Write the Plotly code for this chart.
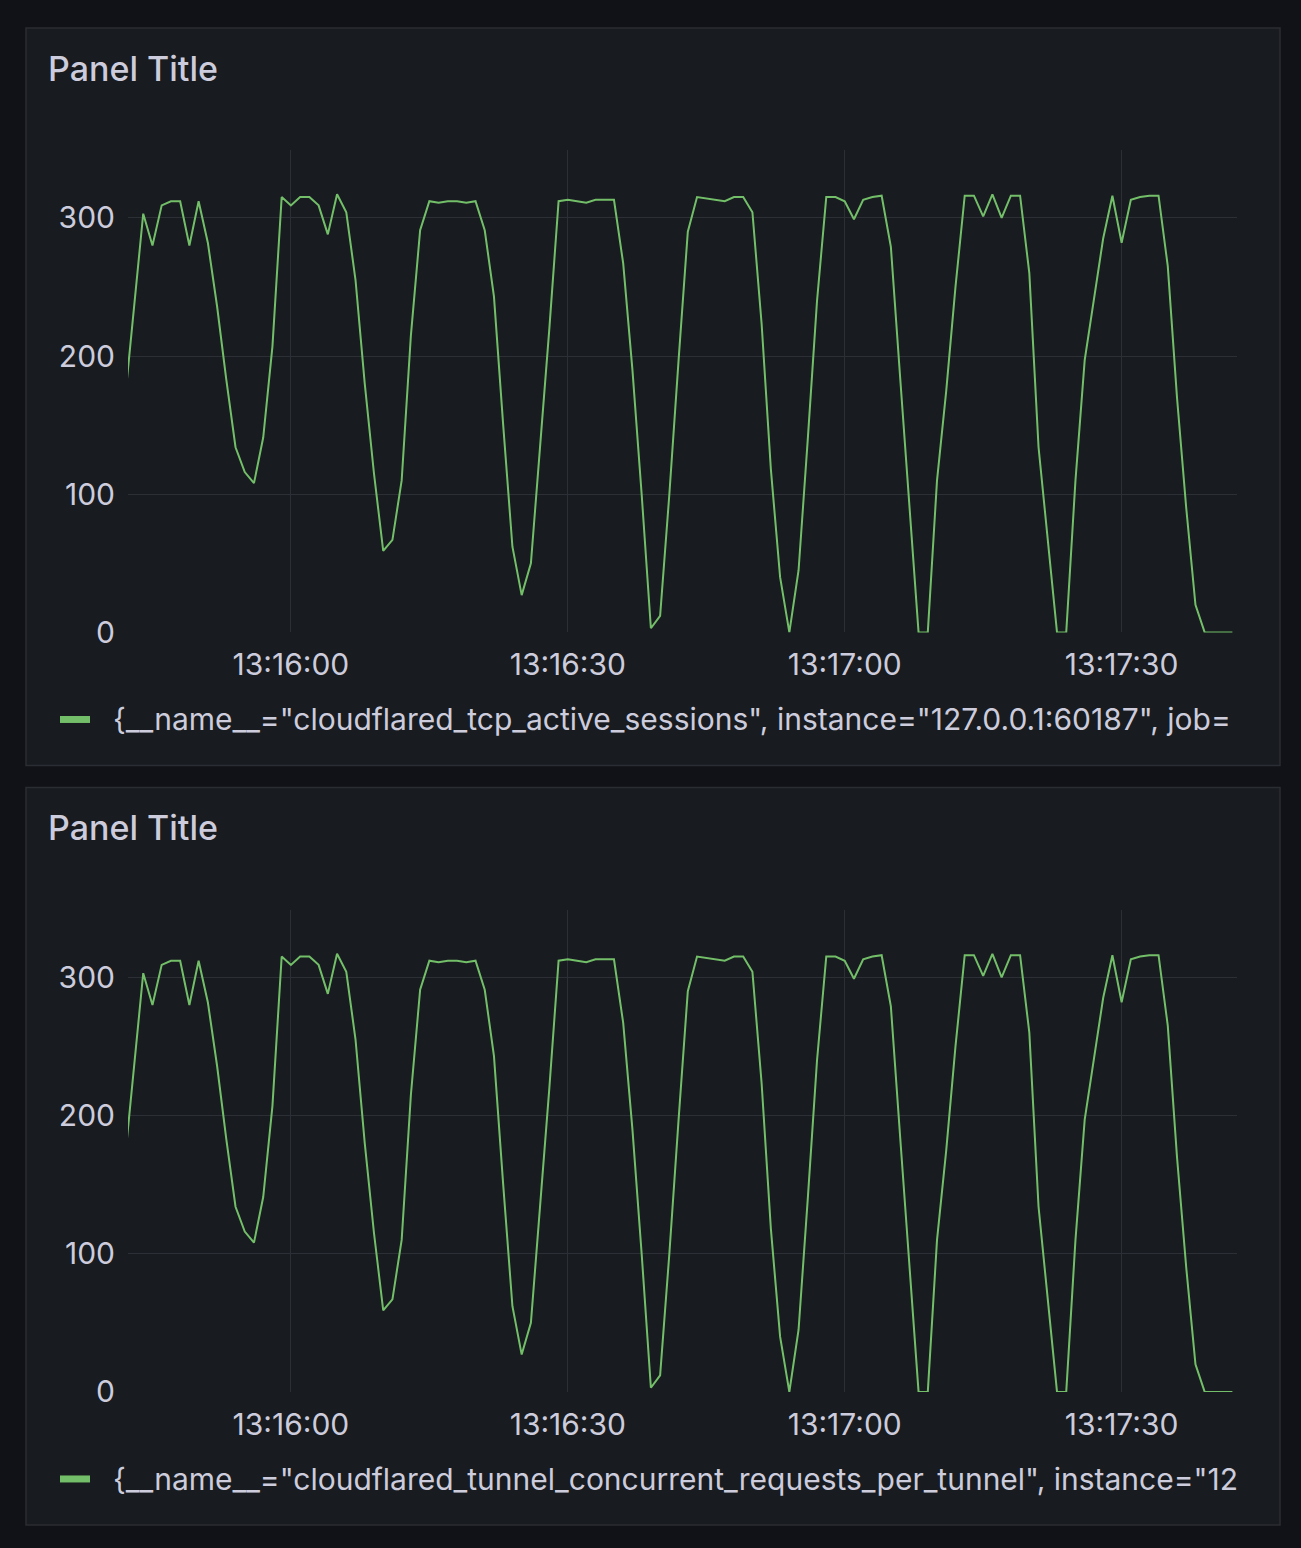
import pandas as pd
import plotly.graph_objects as go

# muestras cada segundo desde 13:15:42
start_time = "2024-01-01 13:15:42"
sessions = [167, 236, 303, 280, 309, 312, 312, 280, 312, 282,
            236, 183, 134, 116, 108, 141, 207, 315, 309, 315,
            315, 309, 288, 317, 304, 255, 180, 115, 59, 67,
            110, 215, 291, 312, 311, 312, 312, 311, 312, 291,
            243, 150, 62, 27, 50, 135, 220, 312, 313, 312,
            311, 313, 313, 313, 267, 190, 100, 3, 12, 100,
            197, 290, 315, 314, 313, 312, 315, 315, 304, 223,
            118, 40, 0, 45, 140, 240, 315, 315, 312, 299,
            313, 315, 316, 279, 185, 95, 0, 0, 110, 175,
            250, 316, 316, 301, 317, 300, 316, 316, 260, 134,
            65, 0, 0, 110, 197, 241, 285, 316, 282, 313,
            315, 316, 316, 265, 170, 90, 20, 0, 0, 0, 0]
requests = list(sessions)
times = pd.date_range(start_time, periods=len(sessions), freq="s")

y_ticks = [0, 100, 200, 300]
x_ticks = ["2024-01-01 13:16:00", "2024-01-01 13:16:30", "2024-01-01 13:17:00", "2024-01-01 13:17:30"]
x_labels = ["13:16:00", "13:16:30", "13:17:00", "13:17:30"]

legends = [
    '{__name__="cloudflared_tcp_active_sessions", instance="127.0.0.1:60187", job=',
    '{__name__="cloudflared_tunnel_concurrent_requests_per_tunnel", instance="12',
]

W, H = 1301, 1548
H_VIS = 1529  # altura real observada en la captura
GREEN = "#73bf69"
TXT = "#ccccdc"
GRID = "#2c2f35"
FONT = "Inter"

def py(px):
    return 1 - px / H_VIS

fig = go.Figure()
series = [sessions, requests]
offsets = [0, 759]
for i, (vals, off) in enumerate(zip(series, offsets)):
    n = "" if i == 0 else str(i + 1)
    fig.add_trace(go.Scatter(x=times, y=vals, mode="lines",
                             line=dict(color=GREEN, width=2),
                             xaxis="x" + n, yaxis="y" + n, showlegend=False))
    fig.update_layout(**{
        "xaxis" + n: dict(domain=[128 / W, 1237 / W], anchor="y" + n,
                          range=["2024-01-01 13:15:42.35", "2024-01-01 13:17:42.5"],
                          tickvals=x_ticks, ticktext=x_labels,
                          showgrid=True, gridcolor=GRID, gridwidth=1,
                          zeroline=False, showline=False, ticks="",
                          tickfont=dict(family=FONT, size=30, color=TXT),
                          ticklabelstandoff=12),
        "yaxis" + n: dict(domain=[py(632 + off), py(150 + off)], anchor="x" + n,
                          range=[0, 349], tickvals=y_ticks,
                          showgrid=True, gridcolor=GRID, gridwidth=1,
                          zeroline=False, showline=False, ticks="",
                          tickfont=dict(family=FONT, size=30, color=TXT),
                          ticklabelstandoff=12),
    })
    # panel
    fig.add_shape(type="rect", xref="paper", yref="paper",
                  x0=26 / W, x1=1280 / W, y0=py(765 + off), y1=py(28 + off),
                  fillcolor="#181b1f", line=dict(color="#2a2d33", width=1.5),
                  layer="below")
    fig.add_annotation(text="Panel Title", xref="paper", yref="paper",
                       x=46 / W, y=py(68 + off), xanchor="left", yanchor="middle",
                       showarrow=False,
                       font=dict(family=FONT, size=34, color=TXT, weight=500))
    fig.add_shape(type="line", xref="paper", yref="paper",
                  x0=60 / W, x1=90 / W, y0=py(719 + off), y1=py(719 + off),
                  line=dict(color=GREEN, width=7))
    fig.add_annotation(text=legends[i], xref="paper", yref="paper",
                       x=111 / W, y=py(719 + off), xanchor="left", yanchor="middle",
                       showarrow=False, font=dict(family=FONT, size=30, color=TXT))

fig.update_layout(width=W, height=H, margin=dict(l=0, r=0, t=0, b=0),
                  paper_bgcolor="#111217", plot_bgcolor="rgba(0,0,0,0)")

fig.write_html("out.html", config={"displayModeBar": False},
               post_script="document.body.style.margin='0';"
                           "document.body.style.background='#111217';"
                           "document.body.style.overflow='hidden';")
